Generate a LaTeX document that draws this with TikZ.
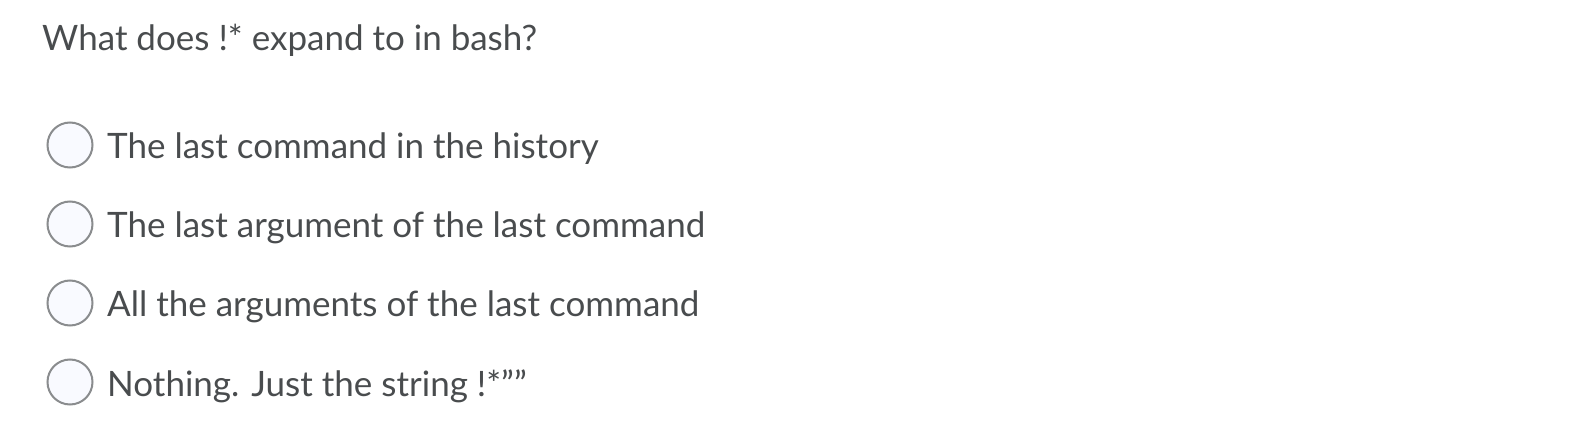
\documentclass[tikz,border=0pt]{standalone}
\usepackage{fontspec}
\setmainfont{Lato}
\definecolor{txt}{HTML}{494C4E}
\definecolor{rfill}{HTML}{F9FAFF}
\definecolor{rline}{HTML}{8A8C8E}
\begin{document}
\begin{tikzpicture}[x=1pt,y=-1pt,
  radio/.style={circle,draw=rline,fill=rfill,line width=2pt,minimum size=45pt,inner sep=0pt},
  lbl/.style={anchor=base west,text=txt,inner sep=0pt,font=\fontsize{35}{40}\selectfont}]
\useasboundingbox (0,0) rectangle (1588,438);
\node[lbl] (q) at (42,51) {What does !* expand to in bash?};
\node[radio] (r1) at (70,145) {};
\node[radio] (r2) at (70,224) {};
\node[radio] (r3) at (70,303) {};
\node[radio] (r4) at (70,382) {};
\node[lbl] (t1) at (107,159) {The last command in the history};
\node[lbl] (t2) at (107,238) {The last argument of the last command};
\node[lbl] (t3) at (107,317) {All the arguments of the last command};
\node[lbl] (t4) at (107,396) {Nothing. Just the string !*""};
\end{tikzpicture}
\end{document}
